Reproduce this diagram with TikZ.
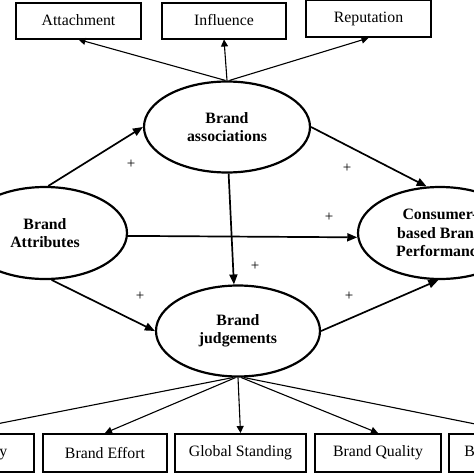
\documentclass[tikz,border=0pt]{standalone}
\usepackage{fontspec}
\setmainfont{Liberation Serif}
\usetikzlibrary{shapes.geometric,arrows.meta}
\begin{document}
\begin{tikzpicture}[x=1pt,y=-1pt,
 oval/.style={ellipse,draw,line width=2.2pt,inner sep=0pt,font=\bfseries\fontsize{15.8}{18.5}\selectfont,align=center},
 itembox/.style={rectangle,draw,line width=2pt,minimum height=37pt,inner sep=0pt,font=\fontsize{15.8}{19}\selectfont},
 mainarrow/.style={line width=1.7pt,-{Triangle[length=10pt,width=8pt]}},
 thinarrow/.style={line width=1.1pt,-{Triangle[length=7pt,width=7pt]}},
 plussign/.style={font=\fontsize{15}{15}\selectfont,inner sep=0pt}]
\useasboundingbox (0,0) rectangle (474,474);
\clip (0,0) rectangle (474,474);
\fill[white] (0,0) rectangle (474,474);
% top boxes
\node[itembox,minimum width=125pt,minimum height=36pt] (att) at (78.5,20.5) {Attachment};
\node[itembox,minimum width=124pt,minimum height=36pt] (inf) at (224,20.5) {Influence};
\node[itembox,minimum width=125pt,minimum height=37pt] (rep) at (368.5,18.5) {Reputation};
% bottom boxes
\node[itembox,minimum width=167pt,minimum height=38pt,anchor=east] (b1) at (35,453) {Brand Superiority};
\node[itembox,minimum width=124pt,minimum height=38pt] (be) at (105,453) {Brand Effort};
\node[itembox,minimum width=131pt,minimum height=38pt] (gs) at (240.5,453) {Global Standing};
\node[itembox,minimum width=126pt,minimum height=38pt] (bq) at (378,453) {Brand Quality};
\node[itembox,minimum width=142pt,minimum height=38pt,anchor=west] (b5) at (448,453) {Brand Credibility};
% ellipses
\node[oval,minimum width=166pt,minimum height=91pt] (ba) at (227,127) {Brand\\associations};
\node[oval,minimum width=164pt,minimum height=92pt] (attr) at (45,233) {Brand\\Attributes};
\node[oval,minimum width=164pt,minimum height=92pt] (cbbp) at (440,233) {Consumer-\\based Brand\\Performance};
\node[oval,minimum width=164pt,minimum height=91pt] (bj) at (238,331) {Brand\\judgements};
% main arrows
\draw[mainarrow] (attr.86) -- (ba.180);
\draw[mainarrow] (ba.0) -- (cbbp.106);
\draw[mainarrow] (attr.-2.5) -- (cbbp.-177.5);
\draw[mainarrow] (ba.-88) -- (bj.95);
\draw[mainarrow] (attr.-82) -- (bj.180);
\draw[mainarrow] (bj.0) -- (cbbp.-92);
% top thin arrows
\draw[thinarrow] (ba.92) -- (att.south);
\draw[thinarrow] (ba.90) -- (inf.south);
\draw[thinarrow] (ba.87) -- (rep.south);
% bottom thin arrows
\draw[thinarrow] (bj.-96) -- (b1.north);
\draw[thinarrow] (bj.-93) -- (be.north);
\draw[thinarrow] (bj.-90) -- (gs.north);
\draw[thinarrow] (bj.-86) -- (bq.north);
\draw[thinarrow] (bj.-83) -- (b5.north);
% plus signs
\node[plussign] (p1) at (131,164) {+};
\node[plussign] (p2) at (347,168) {+};
\node[plussign] (p3) at (329,217) {+};
\node[plussign] (p4) at (255,266) {+};
\node[plussign] (p5) at (140,296) {+};
\node[plussign] (p6) at (349,296) {+};
\end{tikzpicture}
\end{document}
